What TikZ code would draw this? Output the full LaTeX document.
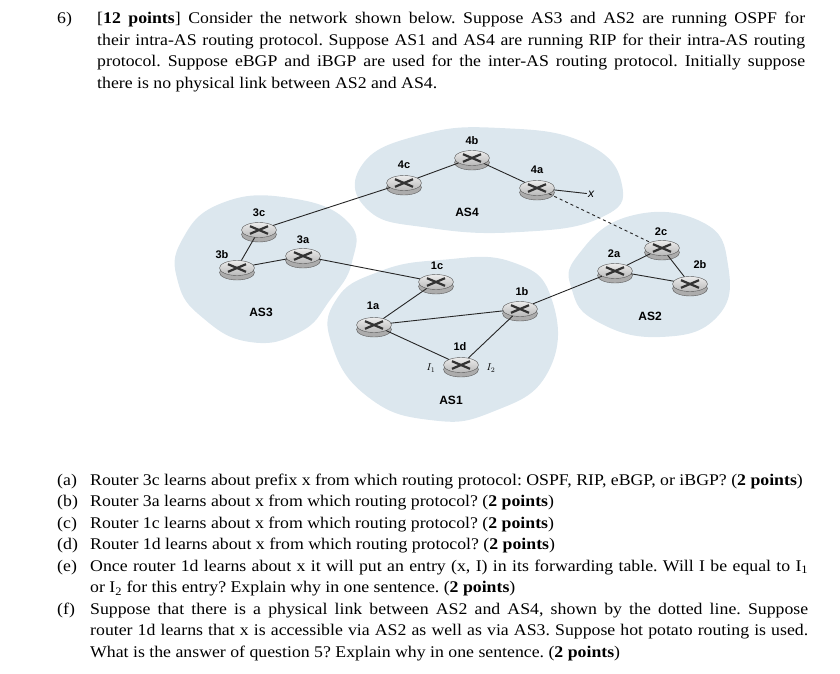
\documentclass[tikz,border=0pt]{standalone}
\usepackage{fontspec}
\setmainfont{Liberation Serif}[FakeStretch=1.09]
\setsansfont{Liberation Sans}
\usetikzlibrary{shapes.geometric}
\definecolor{blobc}{HTML}{DCE7EE}
\tikzset{
 router/.style={ellipse,draw=gray!70!black,line width=0.4pt,minimum width=35pt,minimum height=15pt,inner sep=0pt,
   top color=gray!15,bottom color=gray!55,
   preaction={fill=gray!65,draw=gray!70!black,transform canvas={yshift=-4.5pt}},
   path picture={\draw[line width=2.2pt,gray!40!black] ([xshift=-9pt,yshift=-3.8pt]path picture bounding box.center)--([xshift=9pt,yshift=3.8pt]path picture bounding box.center)
     ([xshift=-9pt,yshift=3.8pt]path picture bounding box.center)--([xshift=9pt,yshift=-3.8pt]path picture bounding box.center);}},
 lab/.style={font=\sffamily\bfseries\fontsize{11}{13}\selectfont,inner sep=1pt},
 aslab/.style={font=\sffamily\bfseries\fontsize{12}{14}\selectfont},
 link/.style={line width=0.9pt,black!85},
 blob/.style={fill=blobc,draw=none},
 txt/.style={anchor=north west,inner sep=0pt,font=\frenchspacing\fontsize{16.3}{21.5}\selectfont,align=justify},
}
\begin{document}
\begin{tikzpicture}[x=1pt,y=-1pt]
\useasboundingbox (0,0) rectangle (840,673);
% header
\node[txt] (n6) at (57,12) {6)};
\node[txt,text width=708pt] (hdr) at (97,12) {\frenchspacing[\textbf{12 points}] Consider the network shown below. Suppose AS3 and AS2 are running OSPF for\linebreak their intra-AS routing protocol. Suppose AS1 and AS4 are running RIP for their intra-AS routing\linebreak protocol. Suppose eBGP and iBGP are used for the inter-AS routing protocol. Initially suppose\linebreak there is no physical link between AS2 and AS4.\par};
% blobs
\fill[blob] plot[smooth cycle,tension=0.8] coordinates {(362,165)(420,135)(500,128)(585,143)(622,185)(600,218)(520,232)(430,228)(368,210)};
\fill[blob] plot[smooth cycle,tension=0.8] coordinates {(182,240)(222,203)(290,198)(348,222)(352,262)(330,300)(300,332)(250,342)(203,318)(178,282)};
\fill[blob] plot[smooth cycle,tension=0.8] coordinates {(336,300)(378,272)(440,260)(512,262)(552,300)(548,372)(492,412)(430,420)(368,397)(332,345)};
\fill[blob] plot[smooth cycle,tension=0.8] coordinates {(578,255)(630,216)(702,222)(728,265)(717,317)(660,337)(598,322)(572,290)};
% routers
\node[router] (r4b) at (472,158) {};
\node[router] (r4c) at (404,183) {};
\node[router] (r4a) at (537,188) {};
\node[router] (r3c) at (259,230) {};
\node[router] (r3a) at (303,256) {};
\node[router] (r3b) at (237,268) {};
\node[router] (r1c) at (436,282) {};
\node[router] (r1a) at (374,325) {};
\node[router] (r1b) at (520,309) {};
\node[router] (r1d) at (461,365) {};
\node[router] (r2a) at (615,271) {};
\node[router] (r2c) at (662,248) {};
\node[router] (r2b) at (690,284) {};
\node[font=\sffamily\itshape\fontsize{12}{14}\selectfont,inner sep=1pt] (x) at (591,194) {x};
% labels
\node[lab] (l4b) at (472,141) {4b};
\node[lab] (l4c) at (404,165) {4c};
\node[lab] (l4a) at (537,170) {4a};
\node[lab] (l3c) at (259,213) {3c};
\node[lab] (l3a) at (303,240) {3a};
\node[lab] (l3b) at (222,255) {3b};
\node[lab] (l1c) at (437,266) {1c};
\node[lab] (l1a) at (373,306) {1a};
\node[lab] (l1b) at (522,292) {1b};
\node[lab] (l1d) at (460,347) {1d};
\node[lab] (l2a) at (614,254) {2a};
\node[lab] (l2c) at (661,232) {2c};
\node[lab] (l2b) at (700,265) {2b};
\node[font=\sffamily\fontsize{10}{12}\selectfont] (i1) at (431,368) {$I_1$};
\node[font=\sffamily\fontsize{10}{12}\selectfont] (i2) at (491,368) {$I_2$};
\node[aslab] (as4) at (467,212) {AS4};
\node[aslab] (as3) at (261,312) {AS3};
\node[aslab] (as1) at (451,400) {AS1};
\node[aslab] (as2) at (650,316) {AS2};
% links
\draw[link] (r4c) -- (r4b);
\draw[link] (r4b) -- (r4a);
\draw[link] (r4a) -- (x);
\draw[link] (r3c) -- (r4c);
\draw[link] (r3c) -- (r3b);
\draw[link] (r3b) -- (r3a);
\draw[link] (r3a) -- (r1c);
\draw[link] (r1c) -- (r1a);
\draw[link] (r1a) -- (r1b);
\draw[link] (r1a) -- (r1d);
\draw[link] (r1d) -- (r1b);
\draw[link] (r1b) -- (r2a);
\draw[link] (r2a) -- (r2c);
\draw[link] (r2a) -- (r2b);
\draw[link] (r2c) -- (r2b);
\draw[link,dashed] (r4a) -- (r2c);
% questions
\node[txt,text width=760pt] (qs) at (57,470) {%
\begin{tabular}{@{}p{33pt}@{}p{718pt}@{}}
(a) & \frenchspacing Router 3c learns about prefix x from which routing protocol: OSPF, RIP, eBGP, or iBGP? (\textbf{2 points})\\
(b) & Router 3a learns about x from which routing protocol? (\textbf{2 points})\\
(c) & Router 1c learns about x from which routing protocol? (\textbf{2 points})\\
(d) & Router 1d learns about x from which routing protocol? (\textbf{2 points})\\
(e) & \frenchspacing Once router 1d learns about x it will put an entry (x, I) in its forwarding table. Will I be equal to I\textsubscript{1}\linebreak or I\textsubscript{2} for this entry? Explain why in one sentence. (\textbf{2 points})\\
(f) & \frenchspacing Suppose that there is a physical link between AS2 and AS4, shown by the dotted line. Suppose\linebreak router 1d learns that x is accessible via AS2 as well as via AS3. Suppose hot potato routing is used.\linebreak What is the answer of question 5? Explain why in one sentence. (\textbf{2 points})
\end{tabular}};
\end{tikzpicture}
\end{document}
